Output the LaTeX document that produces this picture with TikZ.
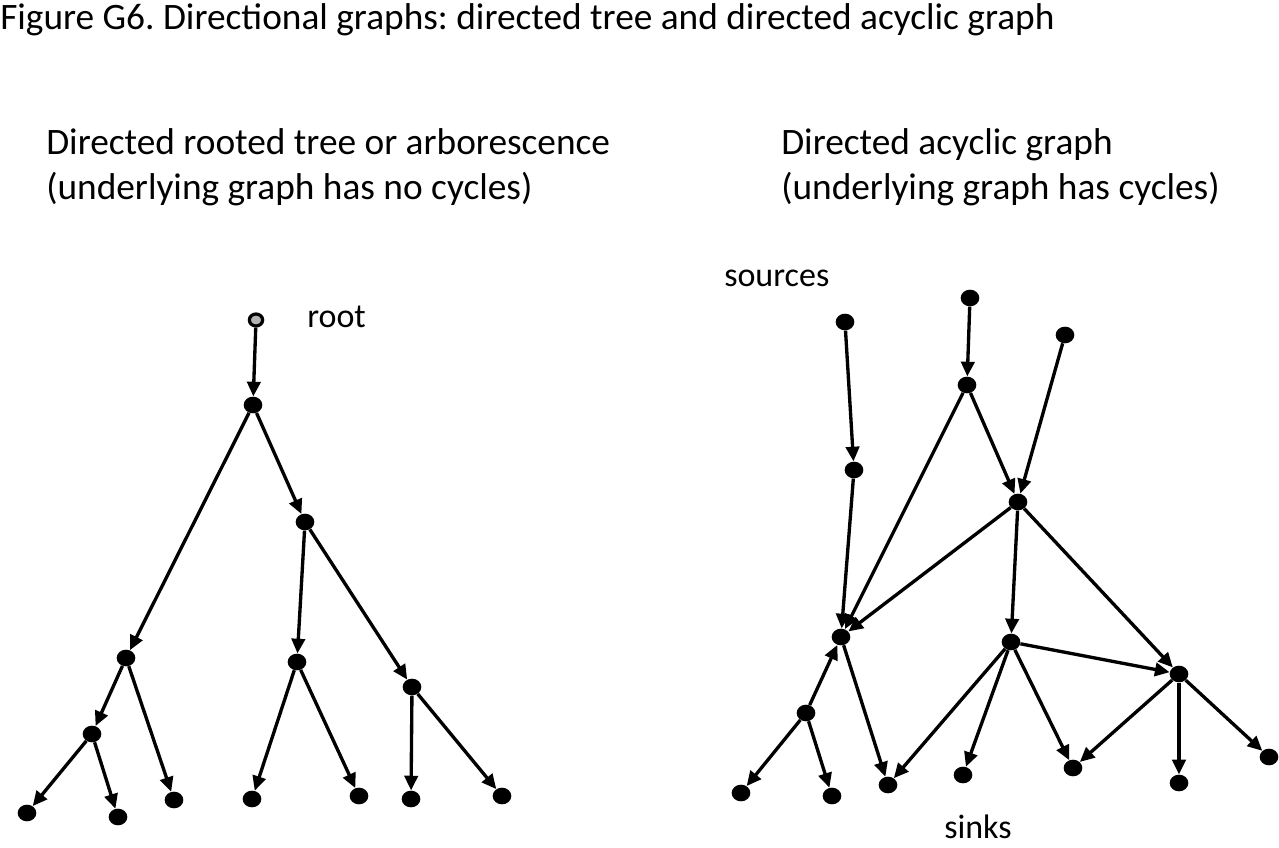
\documentclass[tikz,border=0pt]{standalone}
\usepackage{fontspec}
\setmainfont{Carlito}
\usetikzlibrary{arrows.meta,shapes.geometric}
\tikzset{
  dot/.style={ellipse,fill=black,draw=none,inner sep=0pt,minimum width=14pt,minimum height=12.5pt},
  rootdot/.style={ellipse,fill=black!30,draw=black,line width=2.4pt,inner sep=0pt,minimum width=10pt,minimum height=9pt},
  edge/.style={line width=2.5pt,-{Triangle[length=11pt,width=10pt]}},
  lbl/.style={font=\fontsize{28}{34}\selectfont,anchor=base west,inner sep=0pt},
  small/.style={font=\fontsize{25.5}{30}\selectfont,anchor=base west,inner sep=0pt},
}
\frenchspacing
\begin{document}
\begin{tikzpicture}[x=0.75pt,y=-0.75pt]
\useasboundingbox (0,0) rectangle (1279,848);
% texts
\node[lbl] (title) at (0,30) {Figure G6. Directional graphs: directed tree and directed acyclic graph};
\node[lbl] (lt1) at (46,155) {Directed rooted tree or arborescence};
\node[lbl] (lt2) at (46,200) {(underlying graph has no cycles)};
\node[lbl] (rt1) at (781,155) {Directed acyclic graph};
\node[lbl] (rt2) at (781,200) {(underlying graph has cycles)};
\node[small] (rootl) at (307,328) {root};
\node[small] (srcl) at (724,287) {sources};
\node[small] (snkl) at (944,838) {sinks};
% tree
\node[rootdot] (r) at (256,320) {};
\node[dot] (a) at (253,405) {};
\node[dot] (b) at (305,522) {};
\node[dot] (c) at (126,658) {};
\node[dot] (d) at (297,662) {};
\node[dot] (e) at (412,687) {};
\node[dot] (f) at (92,734) {};
\node[dot] (g1) at (27,813) {};
\node[dot] (g2) at (118,817) {};
\node[dot] (g3) at (174,800) {};
\node[dot] (g4) at (252,799) {};
\node[dot] (g5) at (359,796) {};
\node[dot] (g6) at (411,799) {};
\node[dot] (g7) at (502,796) {};
\draw[edge] (r) -- (a);
\draw[edge] (a) -- (b);
\draw[edge] (a) -- (c);
\draw[edge] (b) -- (d);
\draw[edge] (b) -- (e);
\draw[edge] (c) -- (f);
\draw[edge] (c) -- (g3);
\draw[edge] (f) -- (g1);
\draw[edge] (f) -- (g2);
\draw[edge] (d) -- (g4);
\draw[edge] (d) -- (g5);
\draw[edge] (e) -- (g6);
\draw[edge] (e) -- (g7);
% DAG
\node[dot] (s1) at (845,322) {};
\node[dot] (s2) at (970,298) {};
\node[dot] (s3) at (1065,335) {};
\node[dot] (m) at (967,385) {};
\node[dot] (h) at (854,470) {};
\node[dot] (n) at (1018,502) {};
\node[dot] (p) at (841,637) {};
\node[dot] (q) at (1011,642) {};
\node[dot] (t) at (1179,674) {};
\node[dot] (u) at (806,713) {};
\node[dot] (v1) at (741,793) {};
\node[dot] (v2) at (832,796) {};
\node[dot] (v3) at (888,785) {};
\node[dot] (v4) at (963,775) {};
\node[dot] (v5) at (1073,768) {};
\node[dot] (v6) at (1179,783) {};
\node[dot] (v7) at (1269,757) {};
\draw[edge] (s1) -- (h);
\draw[edge] (s2) -- (m);
\draw[edge] (s3) -- (n);
\draw[edge] (m) -- (n);
\draw[edge] (m) -- (p);
\draw[edge] (h) -- (p);
\draw[edge] (n) -- (p);
\draw[edge] (n) -- (q);
\draw[edge] (n) -- (t);
\draw[edge] (q) -- (t);
\draw[edge] (q) -- (v3);
\draw[edge] (q) -- (v4);
\draw[edge] (q) -- (v5);
\draw[edge] (t) -- (v5);
\draw[edge] (t) -- (v6);
\draw[edge] (t) -- (v7);
\draw[edge] (u) -- (p);
\draw[edge] (u) -- (v1);
\draw[edge] (u) -- (v2);
\draw[edge] (p) -- (v3);
\end{tikzpicture}
\end{document}
